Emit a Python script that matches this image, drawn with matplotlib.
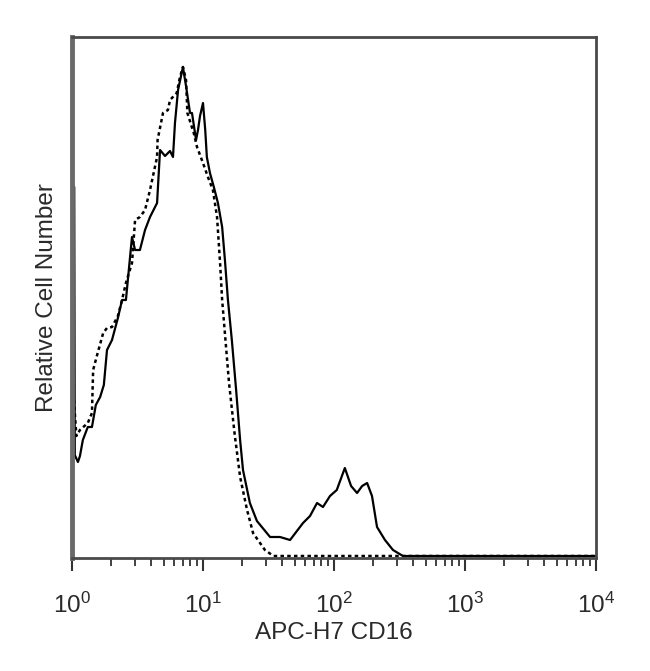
import numpy as np
import matplotlib.pyplot as plt
from matplotlib.ticker import LogLocator, NullFormatter

plt.rcParams['font.family'] = ['Liberation Sans', 'DejaVu Sans']

# stained sample (solid)
stain_x = [1.03, 1.04, 1.05, 1.11, 1.15, 1.21, 1.32, 1.42, 1.52, 1.64, 1.75, 1.85, 2.02,
           2.24, 2.41, 2.58, 2.87, 3.03, 3.30, 3.61, 3.94, 4.46, 4.70, 5.13, 5.60, 5.90,
           6.11, 6.45, 7.03, 7.42, 7.96, 8.24, 8.85, 9.16, 9.49, 10.0, 10.4, 10.7, 11.3,
           12.1, 13.0, 14.0, 14.7, 15.5, 16.6, 17.9, 19.2, 20.2, 22.8, 25.8, 32.5, 38.7,
           46.2, 58.0, 65.6, 74.2, 82.4, 93.2, 105, 121, 135, 150, 164, 179, 195, 213,
           245, 282, 336, 453, 10000]
stain_y = [369, 369, 101, 94, 100, 116, 129, 129, 151, 159, 171, 206, 216,
           238, 256, 256, 319, 306, 306, 326, 339, 353, 406, 400, 405, 399,
           433, 466, 489, 470, 443, 443, 416, 426, 440, 453, 426, 399, 383,
           369, 353, 329, 296, 256, 216, 166, 116, 86, 53, 35, 19, 19,
           16, 33, 40, 53, 49, 60, 66, 88, 70, 63, 70, 73, 60, 29,
           16, 6, 0, 0, 0]

# isotype control (dashed)
ctrl_x = [1.035, 1.08, 1.15, 1.32, 1.42, 1.45, 1.54, 1.73, 1.85, 2.02, 2.24, 2.41, 2.58,
          2.87, 3.03, 3.30, 3.61, 3.94, 4.46, 4.50, 4.95, 5.40, 5.60, 6.30, 6.67, 7.03,
          7.42, 7.60, 8.50, 9.00, 10.0, 10.9, 11.9, 12.8, 13.5, 14.0, 15.8, 17.4, 19.2,
          21.7, 24.1, 29.7, 34.5, 10000]
ctrl_y = [156, 120, 126, 133, 143, 186, 199, 223, 228, 229, 240, 256, 273,
          293, 336, 339, 346, 366, 399, 416, 443, 446, 456, 463, 479, 489,
          476, 443, 423, 409, 393, 379, 366, 339, 293, 256, 173, 123, 79,
          46, 23, 6, 0, 0]

fig = plt.figure(figsize=(6.5, 6.71), dpi=100)
ax = fig.add_axes([72/650, 113/671, 524/650, 521/671])

ax.plot(stain_x, stain_y, color='black', lw=1.6)
ax.plot(ctrl_x, ctrl_y, color='black', lw=1.8, linestyle=(0, (1.4, 1.3)))

ax.set_xscale('log')
ax.set_xlim(1, 1e4)
ax.set_ylim(-2, 519)

for side in ['top', 'right', 'bottom']:
    ax.spines[side].set_color('#4a4a4a')
    ax.spines[side].set_linewidth(2)
ax.spines['left'].set_color('#6a6a6a')
ax.spines['left'].set_linewidth(3.5)

ax.set_yticks([])
ax.xaxis.set_major_locator(LogLocator(base=10, numticks=10))
ax.xaxis.set_minor_locator(LogLocator(base=10, subs=np.arange(2, 10), numticks=50))
ax.xaxis.set_minor_formatter(NullFormatter())
ax.tick_params(axis='x', which='major', direction='out', length=9, width=1.5,
               color='#333333', labelsize=17.5, pad=16)
ax.tick_params(axis='x', which='minor', direction='out', length=6, width=1.3,
               color='#333333')

ax.set_xlabel('APC-H7 CD16', fontsize=17.5, color='#2a2a2a', labelpad=3)
ax.set_ylabel('Relative Cell Number', fontsize=17.5, color='#2a2a2a', labelpad=10)
for lbl in ax.get_xticklabels():
    lbl.set_color('#2a2a2a')

fig.savefig('out.png', dpi=100)
